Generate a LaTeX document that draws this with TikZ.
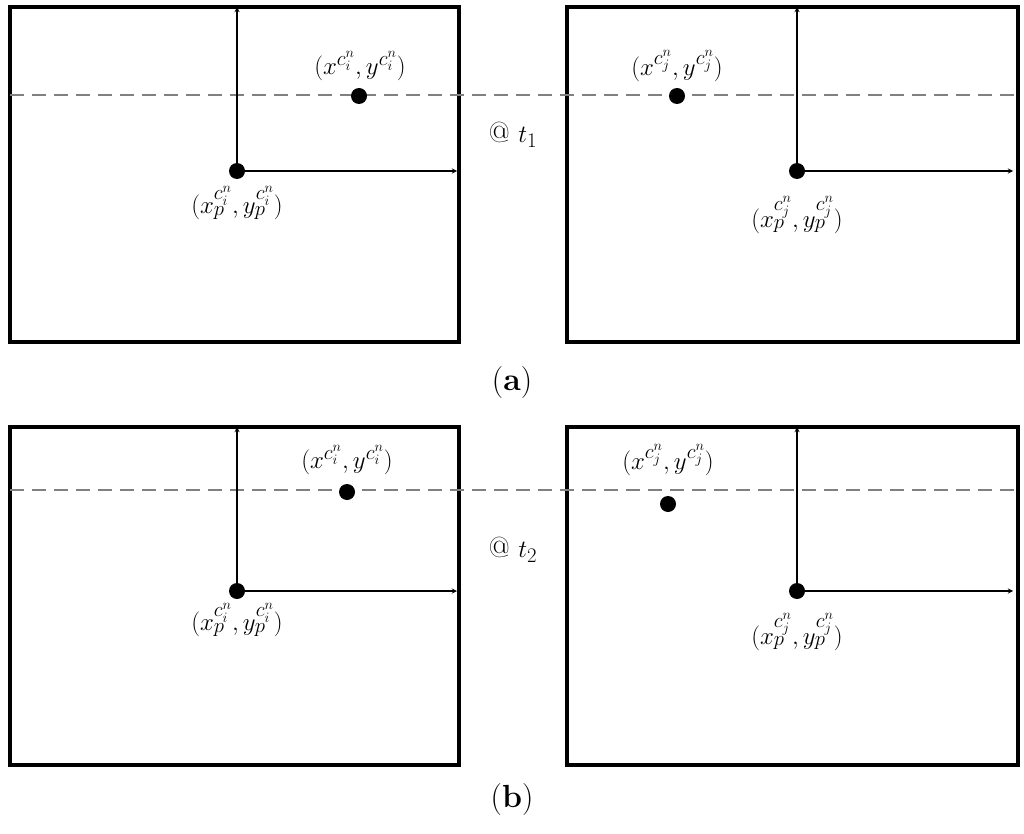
\documentclass[tikz,border=0pt]{standalone}
\begin{document}
\begin{tikzpicture}[x=1pt,y=-1pt,
  frame/.style={line width=4pt},
  axis/.style={line width=1.3pt,-stealth},
  dot/.style={circle,fill=black,inner sep=0pt,minimum size=16pt},
  dashline/.style={gray,line width=2.4pt,dash pattern=on 14pt off 8pt},
  lab/.style={font=\fontsize{29}{33}\selectfont},
  capt/.style={font=\fontsize{32}{36}\selectfont}]
\useasboundingbox (0,0) rectangle (1024,834);
\foreach \yo/\yb/\yd/\xl/\dl/\xr/\dr/\cap in {0/342/95/359/96/677/96/a,420/765/490/347/492/668/504/b}{
  \draw[frame] (10,7+\yo) rectangle (459,\yb);
  \draw[frame] (567,7+\yo) rectangle (1018,\yb);
  \draw[dashline] (10,\yd) -- (1018,\yd);
  \coordinate (lo\cap) at (237,171+\yo);
  \coordinate (ro\cap) at (797,171+\yo);
  \coordinate (lt\cap) at (237,7+\yo);
  \coordinate (lr\cap) at (457,171+\yo);
  \coordinate (rt\cap) at (797,7+\yo);
  \coordinate (rr\cap) at (1013,171+\yo);
  \draw[axis] (lo\cap) -- (lt\cap);
  \draw[axis] (lo\cap) -- (lr\cap);
  \draw[axis] (ro\cap) -- (rt\cap);
  \draw[axis] (ro\cap) -- (rr\cap);
  \node[dot] (l\cap) at (lo\cap) {};
  \node[dot] (r\cap) at (ro\cap) {};
  \node[dot] (pl\cap) at (\xl,\dl) {};
  \node[dot] (pr\cap) at (\xr,\dr) {};
}
\node[lab] at (360,66) {$(x^{c_i^n},y^{c_i^n})$};
\node[lab] at (677,66) {$(x^{c_j^n},y^{c_j^n})$};
\node[lab] at (237,203) {$(x_p^{c_i^n},y_p^{c_i^n})$};
\node[lab] at (797,215) {$(x_p^{c_j^n},y_p^{c_j^n})$};
\node[lab] at (513,135) {@ $t_1$};
\node[lab] at (347,460) {$(x^{c_i^n},y^{c_i^n})$};
\node[lab] at (668,460) {$(x^{c_j^n},y^{c_j^n})$};
\node[lab] at (237,620) {$(x_p^{c_i^n},y_p^{c_i^n})$};
\node[lab] at (797,632) {$(x_p^{c_j^n},y_p^{c_j^n})$};
\node[lab] at (513,550) {@ $t_2$};
\node[capt] at (512,383) {(\textbf{a})};
\node[capt] at (512,800) {(\textbf{b})};
\end{tikzpicture}
\end{document}
